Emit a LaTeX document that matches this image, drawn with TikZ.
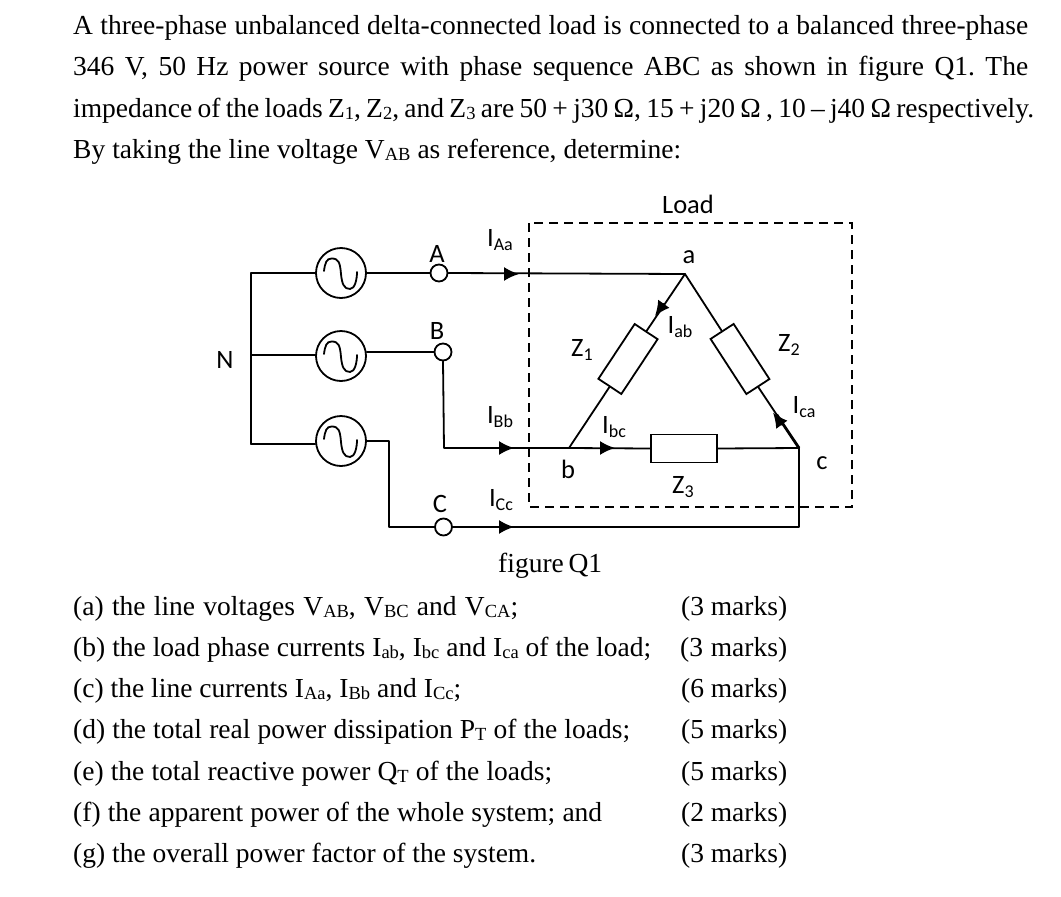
\documentclass[tikz,border=0pt]{standalone}
\usepackage{fontspec}
\setmainfont{Liberation Serif}
\newfontfamily\diag{Carlito}
\usetikzlibrary{arrows.meta,calc}
\frenchspacing
\newcommand{\lsub}[1]{\raisebox{-2.5pt}{\fontsize{18.5}{20}\selectfont #1}}
\newcommand{\dsub}[1]{\raisebox{-3.5pt}{\fontsize{18}{20}\selectfont #1}}
\newcommand{\tline}[2]{\makebox[#1pt][s]{#2}}
\tikzset{
  wire/.style={line width=1.8pt,line cap=round,line join=round},
  source/.style={circle,draw,line width=1.8pt,minimum size=50pt,inner sep=0pt,fill=white},
  terminal/.style={circle,draw,line width=1.8pt,minimum size=17pt,inner sep=0pt,fill=white},
  imp/.style={rectangle,draw,line width=1.8pt,minimum width=65.7pt,minimum height=27.5pt,inner sep=0pt,fill=white},
  body/.style={anchor=base west,inner sep=0pt,font=\fontsize{27.5}{30}\selectfont},
  lab/.style={inner sep=0pt,font=\diag\fontsize{26.5}{28}\selectfont},
  tip/.style={-{Latex[length=15pt,width=14pt]},line width=1.8pt}
}
\begin{document}
\begin{tikzpicture}[x=1pt,y=-1pt]
\useasboundingbox (0,0) rectangle (1061,897);
\fill[white] (0,0) rectangle (1061,897);

% text above
\node[body] (t1) at (73,34) {\tline{955}{A three-phase unbalanced delta-connected load is connected to a balanced three-phase}};
\node[body] (t2) at (73,75) {\tline{955}{346 V, 50 Hz power source with phase sequence ABC as shown in figure Q1. The}};
\node[body] (t3) at (73,117) {\tline{961}{impedance of the loads Z\lsub{1}, Z\lsub{2}, and Z\lsub{3} are 50 + j30 Ω, 15 + j20 Ω , 10 – j40 Ω respectively.}};
\node[body] (t4) at (73,158) {\tline{608}{By taking the line voltage V\lsub{AB} as reference, determine:}};

% load box
\draw[line width=1.8pt,dash pattern=on 9pt off 6pt] (529,223) rectangle (852,507);

% junctions
\coordinate (na) at (251,273);
\coordinate (nb) at (251,355);
\coordinate (nc) at (251,444);
\coordinate (a) at (685,274);
\coordinate (b) at (569,448);
\coordinate (c) at (799,448);
\coordinate (bb) at (444,448);
\coordinate (cup) at (389,441);
\coordinate (cdn) at (389,527);
\coordinate (ccorner) at (799,527);

% sources and terminals
\node[source] (s1) at (341,273) {};
\node[source] (s2) at (341,356) {};
\node[source] (s3) at (341,441) {};
\node[terminal] (A) at (439,273) {};
\node[terminal] (B) at (443,352) {};
\node[terminal] (C) at (443.5,527) {};

% impedances
\node[imp,rotate=56.5] (z1) at (628,359) {};
\node[imp,rotate=-57] (z2) at (740,359) {};
\node[imp,minimum width=66.6pt,minimum height=28pt] (z3) at (684,448.5) {};

% wires
\draw[wire] (na) -- (nc);
\draw[wire] (na) -- (s1.west);
\draw[wire] (nb) -- (nb -| s2.west);
\draw[wire] (nc) -- (nc -| s3.west);
\draw[wire] (s1.east) -- (A.west);
\draw[wire] (s2.east |- B.west) -- (B.west);
\draw[wire] (s3.east) -- (cup) -- (cdn) -- (C.west);
\draw[wire] (A.east) -- (a);
\draw[wire] (B.south) -- (bb) -- (b);
\draw[wire] (C.east) -- (ccorner) -- (c);
\draw[wire] (a) -- (z1.east);
\draw[wire] (z1.west) -- (b);
\draw[wire] (a) -- (z2.west);
\draw[wire] (z2.east) -- (c);
\draw[wire] (b) -- (z3.west);
\draw[wire] (z3.east) -- (c);
\draw[line width=2.8pt] (c) -- ($(c)!0.55!(z2.east)$);

% source waves
\foreach \s in {s1,s2,s3}{
  \draw[line width=1.8pt,line cap=round] ([shift={(-17,-2)}]\s.center)
    .. controls +(1,-8) and +(-5,0) .. ([shift={(-9.5,-14.5)}]\s.center)
    .. controls +(7,0) and +(-1,-12) .. ([shift={(0,1)}]\s.center)
    .. controls +(1,10) and +(-6,0) .. ([shift={(9,16)}]\s.center)
    .. controls +(5,0) and +(0,7) .. ([shift={(16,-1)}]\s.center);
}

% arrowheads
\coordinate (h1a) at (505,274); \coordinate (h1b) at (519,274);
\coordinate (h2a) at (500,448); \coordinate (h2b) at (514,448);
\coordinate (h3a) at (500,527); \coordinate (h3b) at (514,527);
\coordinate (h4a) at (601,448); \coordinate (h4b) at (615,448);
\coordinate (h5a) at (664,303.5); \coordinate (h5b) at (655,316);
\coordinate (h6a) at (782,425); \coordinate (h6b) at (773,412.5);
\draw[tip] (h1a) -- (h1b);
\draw[tip] (h2a) -- (h2b);
\draw[tip] (h3a) -- (h3b);
\draw[tip] (h4a) -- (h4b);
\draw[tip] (h5a) -- (h5b);
\draw[tip] (h6a) -- (h6b);

% labels
\node[lab] (lN) at (225,360) {N};
\node[lab] (lA) at (437,254) {A};
\node[lab] (lB) at (437,331) {B};
\node[lab] (lC) at (440,504) {C};
\node[lab] (lIAa) at (500,240) {I\dsub{Aa}};
\node[lab] (lIBb) at (500,417) {I\dsub{Bb}};
\node[lab] (lICc) at (501,500) {I\dsub{Cc}};
\node[lab] (lLoad) at (688,204) {Load};
\node[lab] (la) at (689,257) {a};
\node[lab] (lb) at (568,469) {b};
\node[lab] (lc) at (822,463) {c};
\node[lab] (lZ1) at (582,350) {Z\dsub{1}};
\node[lab] (lZ2) at (789,345) {Z\dsub{2}};
\node[lab] (lZ3) at (683,487) {Z\dsub{3}};
\node[lab] (lIab) at (680,327) {I\dsub{ab}};
\node[lab] (lIbc) at (614,427) {I\dsub{bc}};
\node[lab] (lIca) at (804,407) {I\dsub{ca}};

\node[body] (fig) at (498,572) {\tline{104}{figure Q1}};

% questions
\node[body] (qa) at (73,615) {\tline{445}{(a) the line voltages V\lsub{AB}, V\lsub{BC} and V\lsub{CA};}};
\node[body] (qb) at (73,656) {\tline{578}{(b) the load phase currents I\lsub{ab}, I\lsub{bc} and I\lsub{ca} of the load;}};
\node[body] (qc) at (73,697) {\tline{388}{(c) the line currents I\lsub{Aa}, I\lsub{Bb} and I\lsub{Cc};}};
\node[body] (qd) at (73,738) {\tline{557}{(d) the total real power dissipation P\lsub{T} of the loads;}};
\node[body] (qe) at (73,780) {\tline{479}{(e) the total reactive power Q\lsub{T} of the loads;}};
\node[body] (qf) at (73,821) {\tline{529}{(f) the apparent power of the whole system; and}};
\node[body] (qg) at (73,862) {\tline{463}{(g) the overall power factor of the system.}};

\node[body] (m1) at (681,615) {\tline{106}{(3 marks)}};
\node[body] (m2) at (680,656) {\tline{107}{(3 marks)}};
\node[body] (m3) at (681,697) {\tline{106}{(6 marks)}};
\node[body] (m4) at (681,738) {\tline{106}{(5 marks)}};
\node[body] (m5) at (681,780) {\tline{106}{(5 marks)}};
\node[body] (m6) at (681,821) {\tline{106}{(2 marks)}};
\node[body] (m7) at (681,862) {\tline{106}{(3 marks)}};
\end{tikzpicture}
\end{document}
